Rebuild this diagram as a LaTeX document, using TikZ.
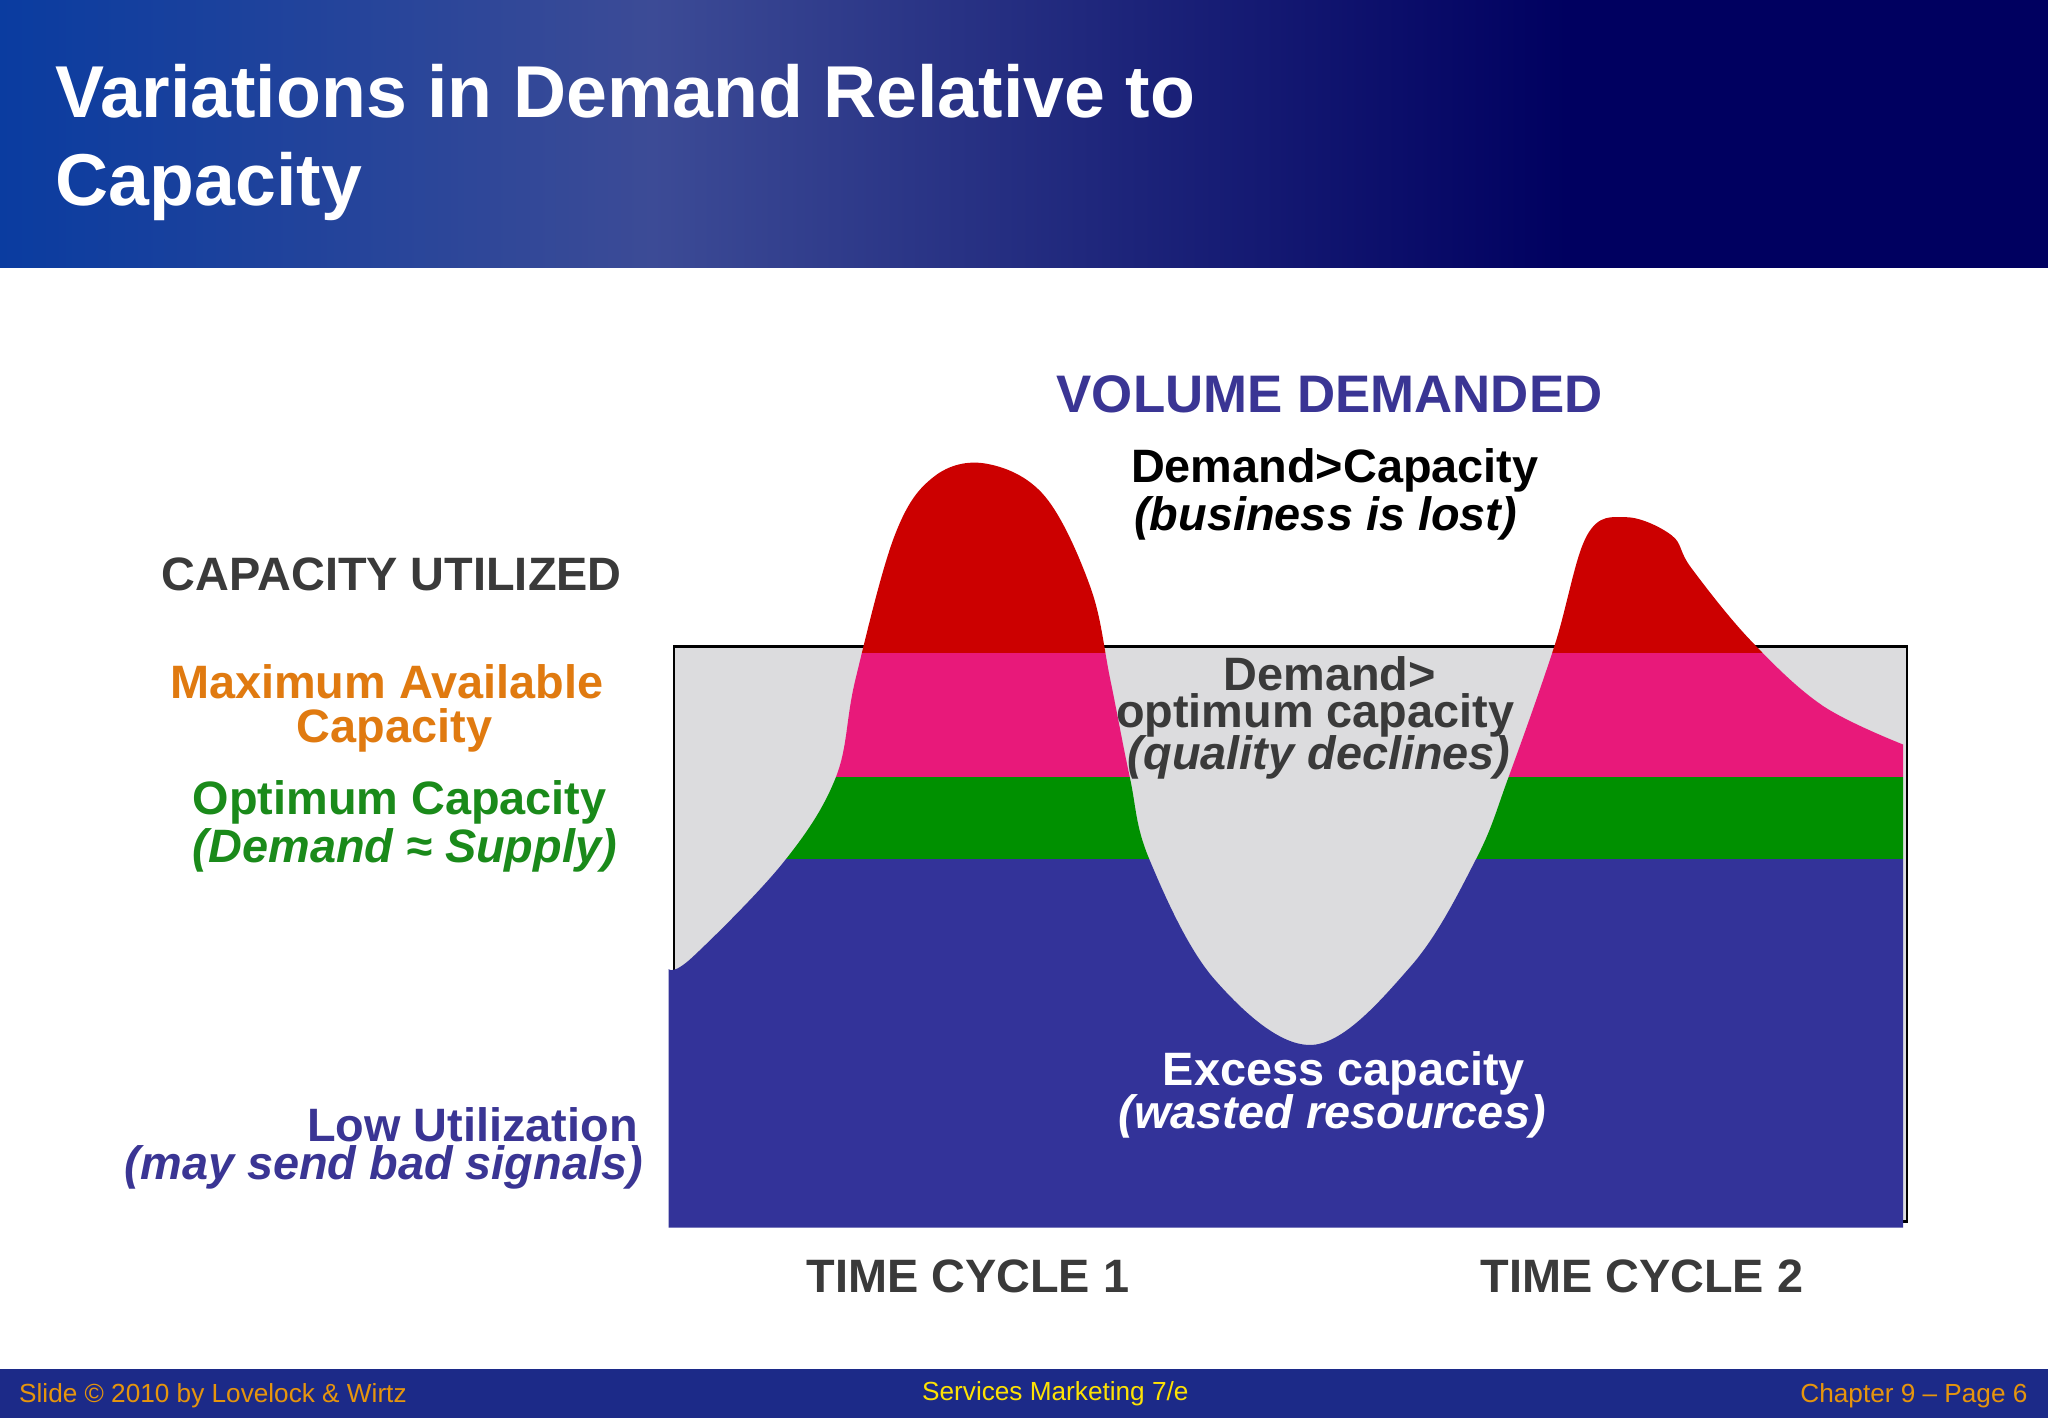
\documentclass[tikz,border=0pt]{standalone}
\usepackage{fontspec}
\setmainfont{Liberation Sans}
\definecolor{navy}{HTML}{3A3594}
\definecolor{dgray}{HTML}{3A3A3A}
\definecolor{orng}{HTML}{E07A10}
\definecolor{grn}{HTML}{1A8A1A}
\definecolor{redc}{HTML}{CC0000}
\definecolor{pinkc}{HTML}{E8197A}
\definecolor{grnc}{HTML}{009000}
\definecolor{bluec}{HTML}{333399}
\definecolor{foot}{HTML}{1C2A88}
\definecolor{hA}{RGB}{10,60,160}
\definecolor{hB}{RGB}{60,75,150}
\definecolor{hC}{RGB}{0,0,96}
\definecolor{boxg}{RGB}{220,220,222}
\begin{document}
\begin{tikzpicture}[x=0.01cm,y=-0.01cm,
  lbl/.style={font=\fontsize{10.2pt}{11pt}\selectfont\bfseries,inner sep=0},
  it/.style={font=\fontsize{10.2pt}{11pt}\selectfont\bfseries\itshape,inner sep=0},
  ft/.style={font=\fontsize{5.7pt}{6pt}\selectfont,inner sep=0}]
\useasboundingbox (0,0) rectangle (1568,1086);
\fill[white] (0,0) rectangle (1568,1086);
\shade[left color=hA, right color=hB] (0,0) rectangle (500,205);
\shade[left color=hB, right color=hC] (499,0) rectangle (1200,205);
\fill[hC] (1199,0) rectangle (1568,205);
\node[anchor=base west,text=white,inner sep=0,font=\fontsize{16pt}{18pt}\selectfont\bfseries] (t1) at (42,90) {Variations in Demand Relative to};
\node[anchor=base west,text=white,inner sep=0,font=\fontsize{16pt}{18pt}\selectfont\bfseries] (t2) at (42,157) {Capacity};
\fill[foot] (0,1048) rectangle (1568,1086);
\node[ft,anchor=west,text=orng!80!yellow] (f1) at (14,1069) {Slide © 2010 by Lovelock \& Wirtz};
\node[ft,text=yellow!85!orange] (f2) at (808,1067) {Services Marketing 7/e};
\node[ft,anchor=east,text=orng!80!yellow] (f3) at (1553,1069) {Chapter 9 – Page 6};
\draw[fill=boxg,line width=0.6pt] (516,495) rectangle (1460,935);
\begin{scope}
\clip plot[smooth,tension=0.6] coordinates {(512,742) (530,733) (600,660) (640,595) (655,520) (685,410) (715,365) (755,355) (800,380) (835,450) (850,520) (865,595) (880,658) (930,750) (1005,800) (1080,740) (1130,658) (1155,595) (1190,495) (1215,410) (1245,396) (1280,410) (1295,435) (1340,490) (1395,540) (1457,570)} -- (1457,940) -- (512,940) -- cycle;
\fill[redc] (500,300) rectangle (1470,500);
\fill[pinkc] (500,500) rectangle (1470,595);
\fill[grnc] (500,595) rectangle (1470,658);
\fill[bluec] (500,658) rectangle (1470,945);
\end{scope}
\node[inner sep=0,text=navy,font=\fontsize{11.5pt}{12pt}\selectfont\bfseries] (vd) at (1018,302) {VOLUME DEMANDED};
\node[lbl] (dc) at (1022,360) {Demand>Capacity};
\node[it] (bl) at (1015,397) {(business is lost)};
\node[lbl,text=dgray] (cu) at (300,440) {CAPACITY UTILIZED};
\node[lbl,text=orng] (m1) at (296,522) {Maximum Available};
\node[lbl,text=orng] (m2) at (302,559) {Capacity};
\node[lbl,text=grn] (o1) at (306,614) {Optimum Capacity};
\node[it,text=grn] (o2) at (310,651) {(Demand ≈ Supply)};
\node[lbl,text=dgray] (q1) at (1018,516) {Demand>};
\node[lbl,text=dgray] (q2) at (1007,548) {optimum capacity};
\node[it,text=dgray] (q3) at (1010,580) {(quality declines)};
\node[lbl,text=white] (e1) at (1029,822) {Excess capacity};
\node[it,text=white] (e2) at (1020,855) {(wasted resources)};
\node[lbl,text=navy,anchor=east] (l1) at (489,861) {Low Utilization};
\node[it,text=navy,anchor=east] (l2) at (493,894) {(may send bad signals)};
\node[lbl,text=dgray] (c1) at (741,977) {TIME CYCLE 1};
\node[lbl,text=dgray] (c2) at (1257,977) {TIME CYCLE 2};
\end{tikzpicture}
\end{document}
